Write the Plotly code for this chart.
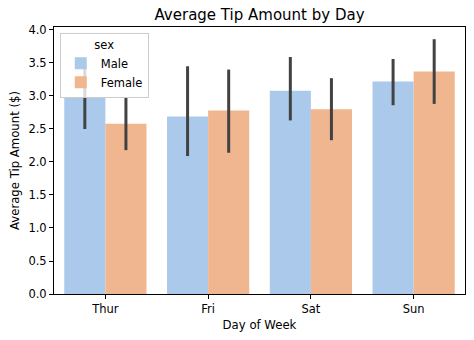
import plotly.graph_objects as go

days = ["Thur", "Fri", "Sat", "Sun"]
male_tip = [2.98, 2.69, 3.08, 3.22]
female_tip = [2.58, 2.78, 2.80, 3.37]
# 95% confidence interval bounds for each mean
male_ci_low = [2.50, 2.09, 2.63, 2.86]
male_ci_high = [3.47, 3.45, 3.59, 3.56]
female_ci_low = [2.18, 2.14, 2.33, 2.88]
female_ci_high = [2.98, 3.40, 3.27, 3.86]

FONT = "DejaVu Sans"
ERR = "#424242"


def err(vals, lo, hi):
    return dict(
        type="data", symmetric=False,
        array=[h - v for v, h in zip(vals, hi)],
        arrayminus=[v - l for v, l in zip(vals, lo)],
        color=ERR, thickness=3, width=0,
    )


fig = go.Figure()
fig.add_trace(go.Bar(
    x=days, y=male_tip, name="Male", marker_color="#abc9ea",
    marker_line_width=0, error_y=err(male_tip, male_ci_low, male_ci_high),
))
fig.add_trace(go.Bar(
    x=days, y=female_tip, name="Female", marker_color="#f0b68f",
    marker_line_width=0, error_y=err(female_tip, female_ci_low, female_ci_high),
))

axis_common = dict(
    showline=True, linecolor="black", linewidth=1, mirror=True,
    ticks="outside", ticklen=4, tickcolor="black", showgrid=False,
    zeroline=False, tickfont=dict(family=FONT, size=11.5, color="black"),
)

fig.update_layout(
    width=474, height=340,
    margin=dict(l=53.5, r=8.5, t=27, b=46),
    paper_bgcolor="white", plot_bgcolor="white",
    barmode="group", bargap=0.2, bargroupgap=0,
    font=dict(family=FONT, color="black"),
    title=dict(text="Average Tip Amount by Day", x=259.5 / 474, xanchor="center",
               y=1 - 15 / 340, yanchor="middle",
               font=dict(family=FONT, size=15, color="black")),
    xaxis=dict(**axis_common, range=[-0.5, 3.5],
               title=dict(text="Day of Week", standoff=6,
                          font=dict(family=FONT, size=11.7))),
    yaxis=dict(**axis_common, range=[0, 4.045], tickvals=[0, 0.5, 1, 1.5, 2, 2.5, 3, 3.5, 4],
               tickformat=".1f",
               title=dict(text="Average Tip Amount ($)", standoff=6,
                          font=dict(family=FONT, size=11.7))),
    legend=dict(
        x=0.014, y=0.978, xanchor="left", yanchor="top",
        bgcolor="rgba(255,255,255,0.8)", bordercolor="#cccccc", borderwidth=1,
        font=dict(family=FONT, size=11.5, color="black"),
        title=dict(text="sex", side="top center", font=dict(family=FONT, size=11.5)),
        tracegroupgap=0,
    ),
)

fig.write_html("out.html")
